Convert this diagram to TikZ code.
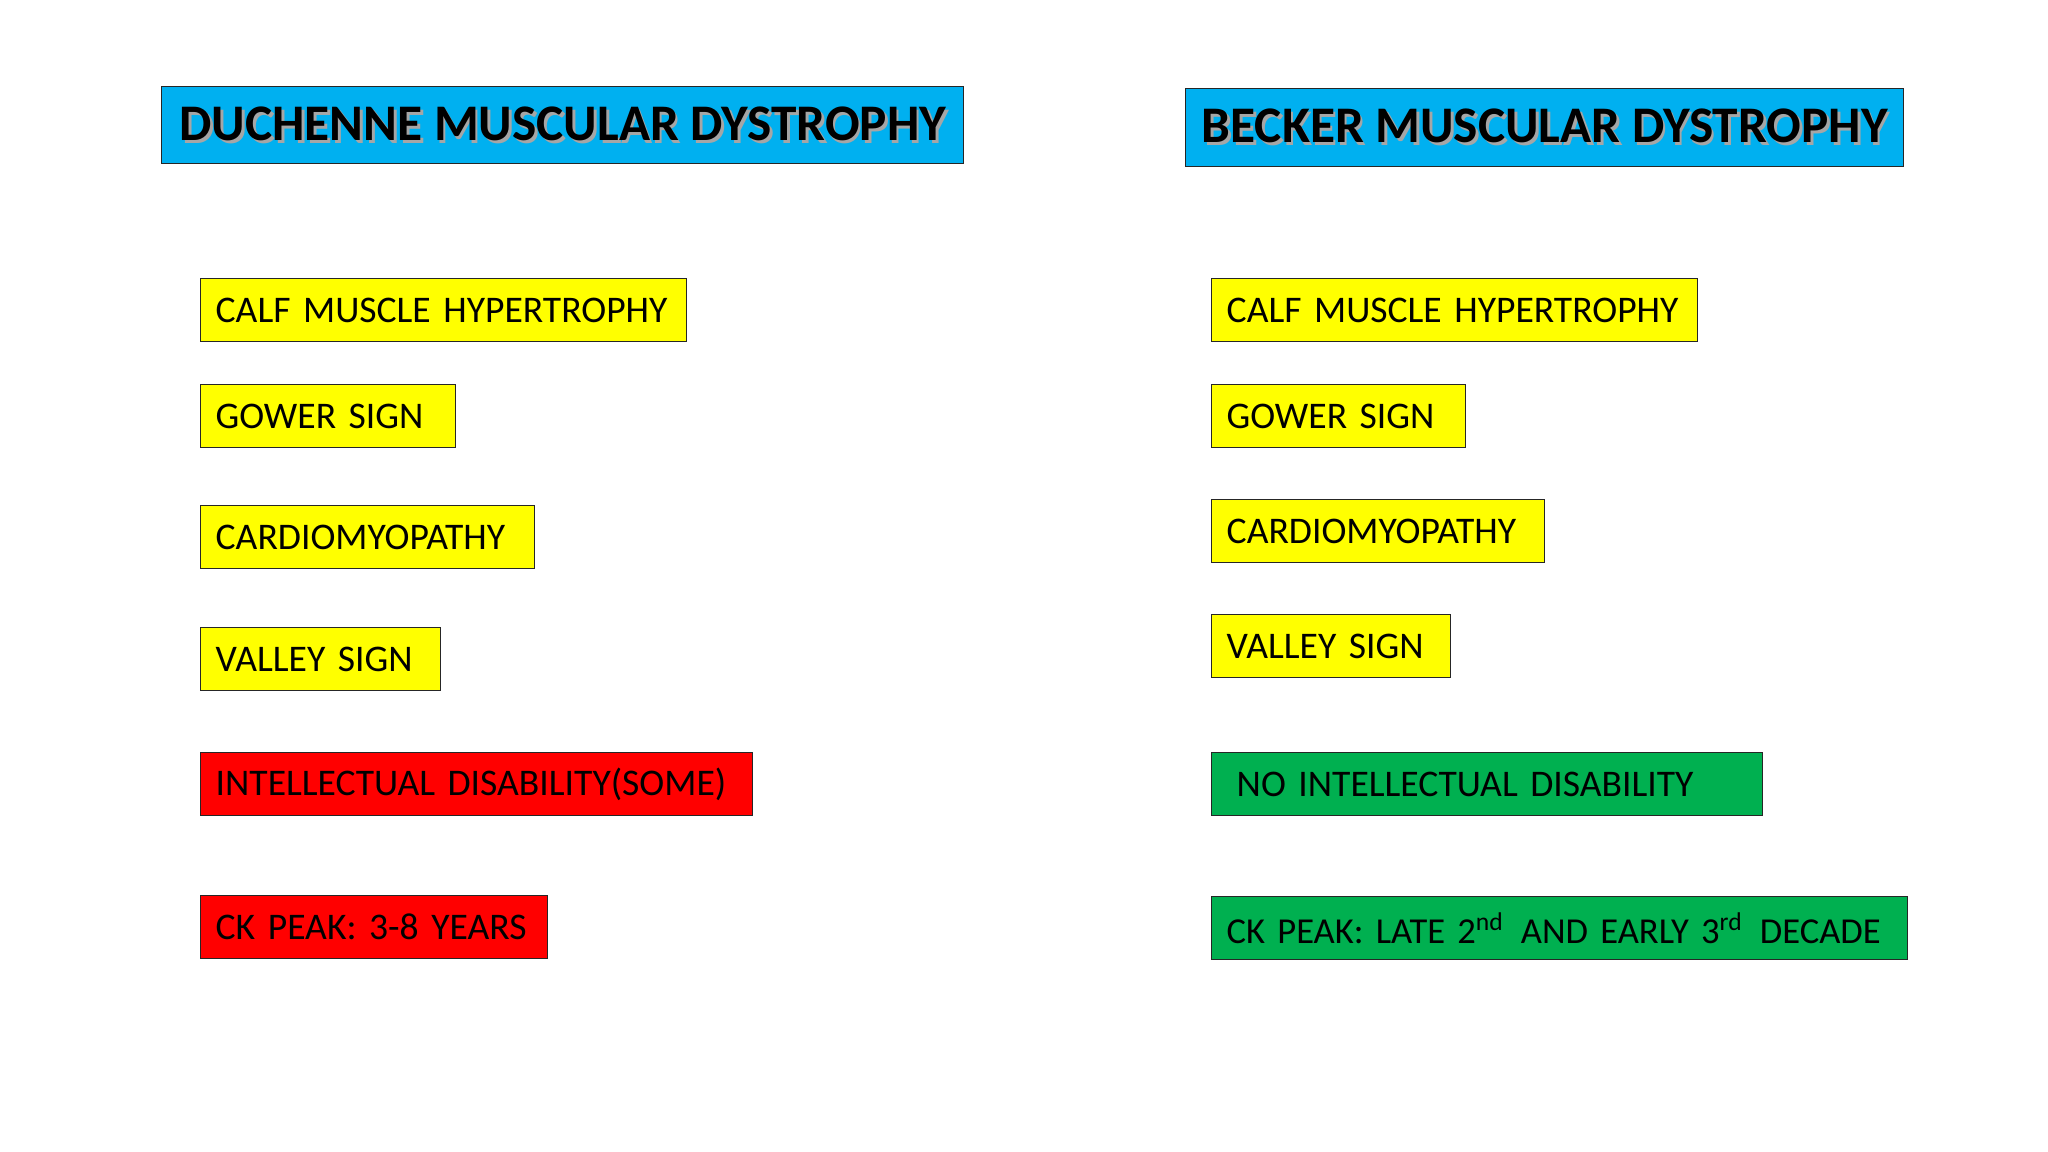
\documentclass[tikz,border=0pt]{standalone}
\usepackage{fontspec}
\setmainfont{Carlito}
\usepackage{tikz}

\definecolor{headblue}{RGB}{0,176,240}
\definecolor{signyellow}{RGB}{255,255,0}
\definecolor{signred}{RGB}{255,0,0}
\definecolor{signgreen}{RGB}{0,176,80}

% heading text with a soft drop shadow
\newcommand{\shadowtext}[1]{\makebox[0pt][l]{\hspace{0.8pt}\raisebox{-0.8pt}{\color{black!35}#1}}#1}

\tikzset{
  head/.style={draw=black!85, fill=headblue, anchor=north west,
    minimum height=0.77cm,
    font=\bfseries\fontsize{14.6}{17}\selectfont},
  sign/.style={draw=black!85, anchor=north west, align=left,
    inner xsep=0.15cm, minimum height=0.63cm,
    font=\fontsize{10.7}{12}\selectfont},
  same/.style={sign, fill=signyellow},
  worse/.style={sign, fill=signred},
  better/.style={sign, fill=signgreen}
}

\begin{document}
\begin{tikzpicture}
    \useasboundingbox[fill=white] (0,0) rectangle (20.48,-11.52);
    % headings
    \node[head, minimum width=8.02cm] (dmd) at (1.61,-0.86) {\shadowtext{DUCHENNE MUSCULAR DYSTROPHY}};
    \node[head, minimum width=7.18cm, minimum height=0.78cm] (bmd) at (11.85,-0.88) {\shadowtext{BECKER MUSCULAR DYSTROPHY}};
    % duchenne
    \node[same, text width=4.56cm] (dcalf) at (2.00,-2.78) {CALF MUSCLE HYPERTROPHY};
    \node[same, text width=2.25cm] (dgower) at (2.00,-3.84) {GOWER SIGN};
    \node[same, text width=3.04cm] (dcardio) at (2.00,-5.05) {CARDIOMYOPATHY};
    \node[same, text width=2.10cm] (dvalley) at (2.00,-6.27) {VALLEY SIGN};
    \node[worse, text width=5.22cm] (did) at (2.00,-7.52) {INTELLECTUAL DISABILITY(SOME)};
    \node[worse, text width=3.17cm] (dck) at (2.00,-8.95) {CK PEAK: 3-8 YEARS};
    % becker
    \node[same, text width=4.56cm] (bcalf) at (12.11,-2.78) {CALF MUSCLE HYPERTROPHY};
    \node[same, text width=2.24cm] (bgower) at (12.11,-3.84) {GOWER SIGN};
    \node[same, text width=3.03cm] (bcardio) at (12.11,-4.99) {CARDIOMYOPATHY};
    \node[same, text width=2.09cm] (bvalley) at (12.11,-6.14) {VALLEY SIGN};
    \node[better, text width=5.21cm] (bid) at (12.11,-7.52) {\hspace{0.1cm}NO INTELLECTUAL DISABILITY};
    \node[better, text width=6.66cm, font=\fontsize{10.4}{12}\selectfont] (bck) at (12.11,-8.96)
        {\mbox{CK PEAK: LATE 2\textsuperscript{nd}\hspace{0.45em}AND EARLY 3\textsuperscript{rd}\hspace{0.45em}DECADE}};
\end{tikzpicture}
\end{document}
